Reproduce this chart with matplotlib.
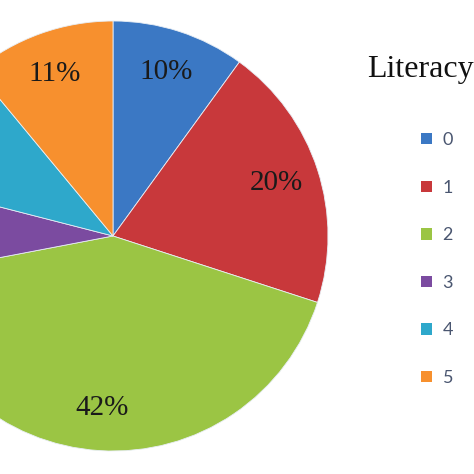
import matplotlib.pyplot as plt
from matplotlib.patches import Patch

# literacy levels and their share (%)
levels = ["0", "1", "2", "3", "4", "5"]
shares = [10, 20, 42, 7, 10, 11]
colors = ["#3b78c4", "#c8383b", "#9bc544", "#7b4ba0", "#2ea8cb", "#f7902e"]

fig = plt.figure(figsize=(4.74, 4.74), dpi=100)
ax = fig.add_axes([0, 0, 1, 1])

wedges, texts, autotexts = ax.pie(
    shares, colors=colors, startangle=90, counterclock=False,
    center=(113, 474 - 236), radius=215,
    autopct="%d%%", pctdistance=0.8,
    wedgeprops=dict(linewidth=0.6, edgecolor="#e8eef5"),
    textprops=dict(family="Liberation Serif", fontsize=21, color="#1a1a1a"),
)
# pie resets the limits, so pin the axes to pixel units afterwards
ax.set_xlim(0, 474)
ax.set_ylim(0, 474)
ax.set_aspect("equal")
ax.axis("off")

fig.text(367 / 474, 1 - 70 / 474, "Literacy", family="Liberation Serif",
         fontsize=23, va="center", ha="left", color="#111111")

handles = [Patch(facecolor=c, edgecolor="none") for c in colors]
leg = fig.legend(handles, levels, loc="center left",
                 bbox_to_anchor=(421 / 474, 1 - 259 / 474),
                 frameon=False, borderpad=0, borderaxespad=0,
                 handlelength=0.6, handleheight=0.6, handletextpad=0.6,
                 labelspacing=1.75,
                 prop=dict(family="Lato", size=13))
for t in leg.get_texts():
    t.set_color("#4a5670")

fig.savefig("out.png", dpi=100)
